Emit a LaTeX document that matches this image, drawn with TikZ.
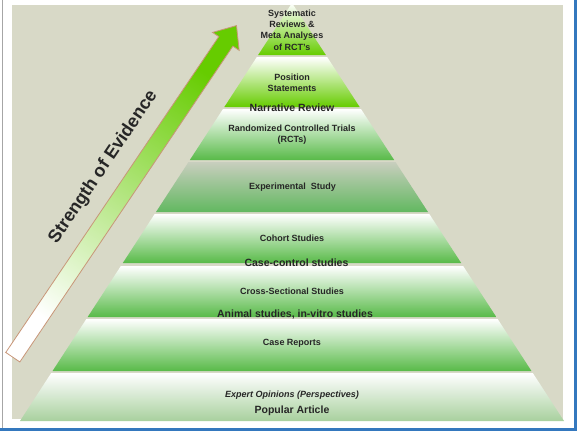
\documentclass[tikz,border=0pt]{standalone}
\usepackage{fontspec}
\setmainfont{Liberation Sans}
\usepackage{xcolor}
\usepackage{tikz}

\definecolor{beige}{RGB}{216,217,199}
\definecolor{lime}{RGB}{102,204,0}
\definecolor{leaf}{RGB}{88,186,72}
\definecolor{moss}{RGB}{98,184,96}
\definecolor{mist}{RGB}{200,206,190}
\definecolor{pale}{RGB}{168,208,158}
\definecolor{frameblue}{RGB}{52,120,190}
\definecolor{arrowrim}{RGB}{200,150,120}

\begin{document}
\begin{tikzpicture}[x=1pt,y=-1pt]
            \tikzstyle{small}=[font=\bfseries\fontsize{9}{11.3}\selectfont, text=black!85, align=center, inner sep=0pt]
            \tikzstyle{big}=[font=\bfseries\fontsize{10.5}{12}\selectfont, text=black!85, inner sep=0pt]
            \useasboundingbox (0,0) rectangle (577,431);
            % frame and background
            \fill [white] (0,0) rectangle (577,431);
            \fill [beige] (12,5) rectangle (563,419);
            \draw [gray!70, line width=1.2pt] (2.5,0) -- (2.5,428);
            \fill [frameblue] (573.5,0) rectangle (576.5,431);
            \fill [frameblue] (0,428.3) rectangle (577,431);
            % pyramid tiers
            \shade [top color=white, middle color=lime!70!white, bottom color=lime] (292,3) -- (325.84,55) -- (258.16,55) -- cycle;
            \shade [top color=white, middle color=lime, bottom color=lime] (256.86,57) -- (327.14,57) -- (359.67,107) -- (224.33,107) -- cycle;
            \shade [top color=white, middle color=leaf!55!white, bottom color=leaf] (223.02,109) -- (360.98,109) -- (394.16,160) -- (189.84,160) -- cycle;
            \shade [top color=mist, middle color=moss!75!mist, bottom color=moss] (188.54,162) -- (395.46,162) -- (428,212) -- (156,212) -- cycle;
            \shade [top color=white, middle color=leaf!55!white, bottom color=leaf] (154.7,214) -- (429.3,214) -- (461.19,263) -- (122.81,263) -- cycle;
            \shade [top color=white, middle color=leaf!55!white, bottom color=leaf] (120.86,266) -- (463.14,266) -- (496.33,317) -- (87.67,317) -- cycle;
            \shade [top color=white, middle color=leaf!55!white, bottom color=leaf] (86.37,319) -- (497.63,319) -- (531.47,371) -- (52.53,371) -- cycle;
            \shade [top color=white, middle color=pale!50!white, bottom color=pale] (51.23,373) -- (532.77,373) -- (564,421) -- (20,421) -- cycle;
            % arrow
            \shadedraw [top color=lime, bottom color=white, shading angle=-34, draw=arrowrim, line width=0.8pt, line join=miter]
                (5.75,352.45) -- (218.81,36.60) -- (212.60,32.40) -- (236.48,25.6) -- (239.12,50.30) -- (232.91,46.10) -- (19.85,361.95) -- cycle;
            \node [rotate=56, font=\bfseries\fontsize{18}{20}\selectfont, text=black!85, inner sep=0pt] (strength) at (103.3,167.3) {Strength of Evidence};
            % labels
            \node [small] (sysrev) at (292,30) {Systematic\\Reviews \&\\Meta Analyses\\of RCT's};
            \node [small] (position) at (292,82.5) {Position\\Statements};
            \node [big] (narrative) at (292,108) {Narrative Review};
            \node [small] (rct) at (292,134.5) {Randomized Controlled Trials\\(RCTs)};
            \node [small] (experimental) at (292.5,187) {Experimental\ \ Study};
            \node [small] (cohort) at (292,238) {Cohort Studies};
            \node [big] (casecontrol) at (296.5,263) {Case-control studies};
            \node [small] (crosssec) at (292,291) {Cross-Sectional Studies};
            \node [big] (animal) at (295,315) {Animal studies, in-vitro studies};
            \node [small] (casereports) at (292,343) {Case Reports};
            \node [small, font=\bfseries\itshape\fontsize{9}{11}\selectfont] (expert) at (292,395) {Expert Opinions (Perspectives)};
            \node [big] (popular) at (292,411) {Popular Article};
        \end{tikzpicture}
\end{document}
